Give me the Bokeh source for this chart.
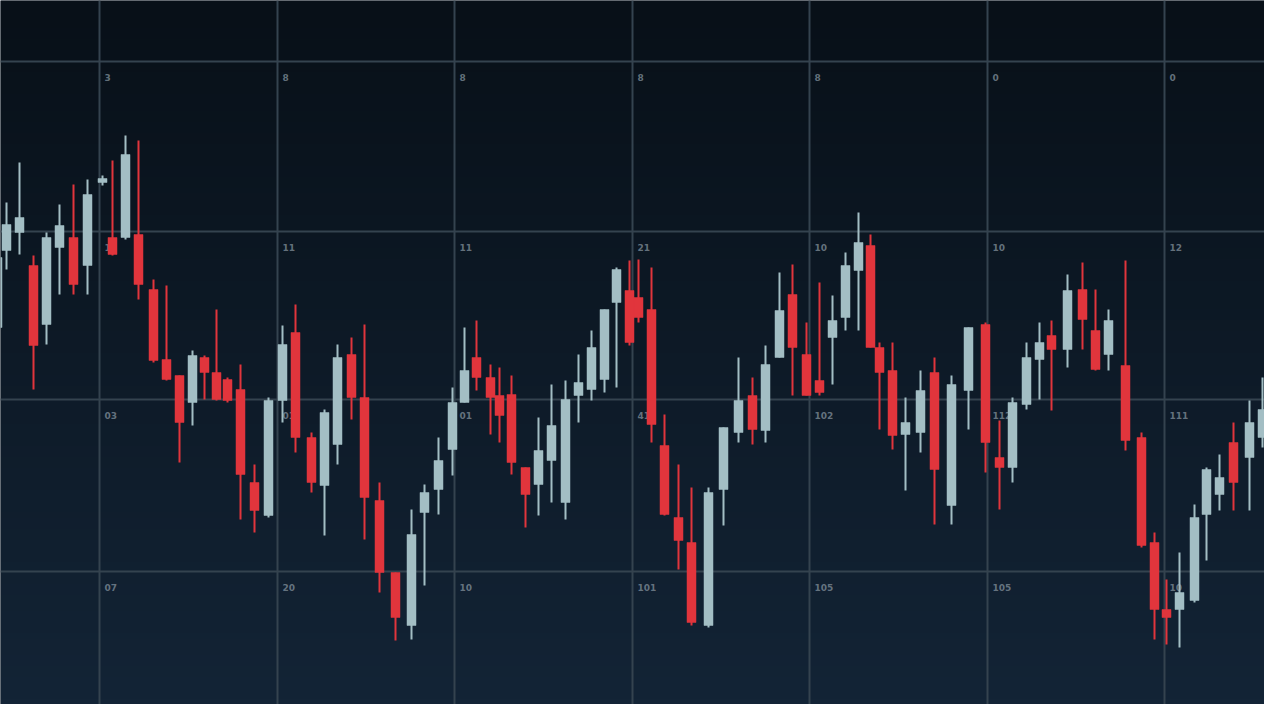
import numpy as np
from bokeh.plotting import figure
from bokeh.models import Range1d, FixedTicker, ColumnDataSource
from bokeh.core.properties import value
from bokeh.embed import file_html
from bokeh.resources import INLINE

# ---- data (time position, OHLC) ----
t = [5, 14, 27, 41, 54, 67, 81, 95, 110, 120,
     133, 146, 161, 174, 187, 200, 212, 224, 235, 248,
     262, 276, 290, 303, 319, 332, 345, 359, 372, 387,
     403, 419, 432, 446, 460, 472, 484, 498, 507, 519,
     533, 546, 559, 573, 586, 599, 612, 624, 637, 646,
     659, 672, 686, 699, 716, 731, 746, 760, 773, 787,
     800, 814, 827, 840, 853, 866, 878, 887, 900, 913,
     928, 942, 959, 976, 993, 1007, 1020, 1034, 1047, 1059,
     1075, 1090, 1103, 1116, 1133, 1149, 1162, 1174, 1187, 1202,
     1214, 1227, 1241, 1257, 1270]

open_ = [38.5, 46.2, 48.0, 44.7, 38.8, 46.5, 47.5, 44.7, 53.0, 47.5,
         47.5, 47.8, 42.3, 35.3, 33.7, 31.0, 35.5, 34.0, 33.3, 32.3,
         23.0, 19.7, 31.2, 38.0, 27.5, 22.7, 26.8, 35.8, 31.5, 21.2,
         14.0, 8.7, 20.0, 22.3, 26.3, 31.0, 35.5, 33.5, 31.7, 31.8,
         24.5, 22.8, 25.2, 21.0, 31.7, 32.3, 33.3, 41.0, 42.2, 41.5,
         40.3, 26.7, 19.5, 17.0, 8.7, 22.3, 28.0, 31.7, 28.2, 35.5,
         41.8, 35.8, 33.2, 37.5, 39.5, 44.2, 46.7, 36.5, 34.2, 27.8,
         28.0, 34.0, 20.7, 32.2, 38.8, 25.5, 24.5, 30.8, 35.3, 37.7,
         36.3, 42.3, 38.2, 35.8, 34.7, 27.5, 17.0, 10.3, 10.3, 11.2,
         19.8, 21.8, 27.0, 25.5, 27.5]

close = [45.5, 48.8, 49.5, 36.7, 47.5, 48.7, 42.8, 51.8, 53.4, 45.8,
         55.8, 42.8, 35.2, 33.3, 29.0, 35.7, 34.0, 31.3, 31.2, 23.8,
         20.2, 31.2, 36.8, 27.5, 23.0, 30.0, 35.5, 31.5, 21.5, 14.0,
         9.5, 17.8, 22.0, 25.2, 31.0, 34.2, 33.5, 31.5, 29.7, 25.0,
         21.8, 26.2, 28.7, 31.3, 33.0, 36.5, 40.3, 44.3, 37.0, 39.5,
         28.8, 19.8, 17.2, 9.0, 22.0, 28.5, 31.2, 28.3, 34.8, 40.2,
         36.5, 31.7, 32.0, 39.2, 44.7, 47.0, 36.5, 34.0, 27.7, 29.0,
         32.2, 24.3, 32.8, 38.5, 27.0, 24.5, 31.0, 35.5, 37.0, 36.3,
         42.2, 39.3, 34.3, 39.2, 27.2, 16.7, 10.3, 9.5, 12.0, 19.5,
         24.3, 23.5, 23.0, 29.0, 30.3]

high = [47.0, 51.0, 55.0, 45.7, 48.0, 50.8, 52.8, 53.3, 53.7, 55.2,
        57.7, 57.2, 43.3, 42.7, 33.7, 36.2, 35.7, 40.3, 33.5, 34.8,
        24.8, 31.5, 38.7, 40.8, 28.0, 30.3, 36.8, 37.5, 38.8, 23.0,
        14.0, 20.3, 22.8, 27.5, 32.5, 38.5, 39.2, 34.8, 34.5, 33.7,
        24.5, 29.5, 32.8, 33.2, 35.8, 38.2, 40.3, 44.5, 45.2, 45.3,
        44.5, 29.8, 24.8, 22.5, 22.5, 28.5, 35.5, 33.5, 36.7, 44.0,
        44.8, 39.0, 43.0, 41.7, 46.0, 50.0, 47.8, 37.0, 37.0, 31.5,
        34.2, 35.5, 33.7, 38.5, 39.0, 29.2, 31.5, 37.0, 39.0, 39.2,
        43.8, 45.0, 42.3, 40.3, 45.2, 28.0, 18.0, 13.3, 16.0, 20.8,
        24.5, 25.8, 29.0, 31.2, 33.5]

low = [33.5, 44.3, 45.8, 32.3, 36.8, 41.8, 41.8, 41.8, 52.7, 45.7,
       47.3, 41.3, 35.0, 33.2, 25.0, 28.7, 31.3, 31.2, 31.0, 19.3,
       18.0, 19.5, 29.0, 26.0, 22.0, 17.7, 24.8, 29.3, 17.3, 12.0,
       7.2, 7.3, 12.7, 19.8, 23.7, 31.0, 32.2, 27.8, 27.0, 23.8,
       18.5, 19.7, 21.0, 19.3, 29.0, 31.2, 32.0, 32.5, 36.7, 39.0,
       27.0, 19.7, 14.3, 8.7, 8.5, 18.7, 27.0, 26.8, 27.0, 35.5,
       31.7, 31.7, 31.7, 32.8, 38.2, 38.2, 36.5, 28.3, 26.3, 22.2,
       26.0, 18.8, 18.8, 28.3, 24.0, 20.3, 23.0, 30.3, 31.3, 30.2,
       34.5, 36.3, 34.2, 34.2, 26.2, 16.5, 7.3, 6.8, 6.5, 11.0,
       15.2, 20.2, 20.2, 20.2, 26.5]

# grid positions and the small labels at each grid crossing
grid_t = [107, 285, 462, 640, 817, 995, 1172]
grid_price = [65.1, 48.1, 31.3, 14.1]
grid_labels = [
    ["3", "8", "8", "8", "8", "0", "0"],
    ["11", "11", "11", "21", "10", "10", "12"],
    ["03", "01", "01", "41", "102", "112", "111"],
    ["07", "20", "10", "101", "105", "105", "10"],
]

UP = "#a3bec4"
DOWN = "#e1353c"

up = [c >= o for o, c in zip(open_, close)]
src = ColumnDataSource(dict(
    t=t, open=open_, close=close, high=high, low=low,
    top=[max(o, c) for o, c in zip(open_, close)],
    bottom=[min(o, c) for o, c in zip(open_, close)],
    color=[UP if u else DOWN for u in up],
))

W, H = 1264, 704
p = figure(width=W, height=H, output_backend="svg", toolbar_location=None,
           x_range=Range1d(8, 1272), y_range=Range1d(0.8, 71.2),
           min_border=0, min_border_left=0, min_border_right=0,
           min_border_top=0, min_border_bottom=0)
p.axis.visible = False
p.outline_line_color = None
p.background_fill_color = "#0d1925"
p.border_fill_color = "#0d1925"

# vertical gradient background (style only)
n = 128
frac = np.linspace(0, 1, n)  # 0 = bottom, 1 = top
bot = np.array([0x13, 0x24, 0x36])
topc = np.array([0x08, 0x10, 0x18])
rgb = (bot[None, :] * (1 - frac[:, None]) + topc[None, :] * frac[:, None]).astype(np.uint8)
img = np.zeros((n, 1), dtype=np.uint32)
view = img.view(dtype=np.uint8).reshape((n, 1, 4))
view[:, 0, 0] = rgb[:, 0]
view[:, 0, 1] = rgb[:, 1]
view[:, 0, 2] = rgb[:, 2]
view[:, 0, 3] = 255
bg = p.image_rgba(image=[img], x=8, y=0.8, dw=1264, dh=70.4)
bg.level = "image"

# grid
p.xgrid.ticker = FixedTicker(ticks=grid_t)
p.ygrid.ticker = FixedTicker(ticks=grid_price)
for g in (p.xgrid, p.ygrid):
    g.grid_line_color = "#34434f"
    g.grid_line_width = 2
    g.grid_line_alpha = 1.0
    g.level = "underlay"

# labels at the grid crossings
lx, ly, lt = [], [], []
for r, gp in enumerate(grid_price):
    for c, gt in enumerate(grid_t):
        lx.append(gt + 5)
        ly.append(gp - 1.6)
        lt.append(grid_labels[r][c])
p.text(x=lx, y=ly, text=lt, text_color="#7c8a95", text_font_size="9px",
       text_font=value("DejaVu Sans"), text_font_style="bold",
       text_baseline="middle", text_align="left", text_alpha=0.8)

# candles
p.segment(x0="t", y0="high", x1="t", y1="low", color="color",
          line_width=2, source=src)
p.vbar(x="t", width=9, top="top", bottom="bottom", fill_color="color",
       line_color="color", line_width=0.5, source=src)

open("out.html", "w").write(file_html(p, INLINE))
